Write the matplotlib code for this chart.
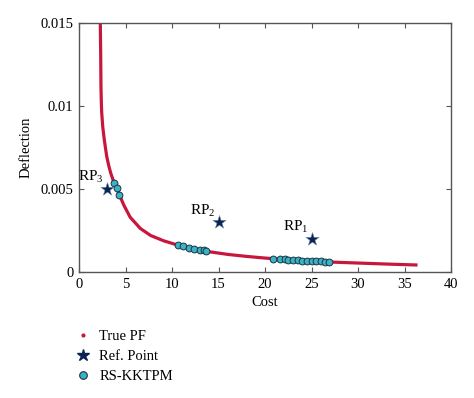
import matplotlib
matplotlib.use("Agg")
import matplotlib.pyplot as plt
from matplotlib.lines import Line2D

plt.rcParams['font.family'] = ['Liberation Serif', 'DejaVu Serif']

# True Pareto front
pf_cost = [2.29, 2.31, 2.33, 2.36, 2.40, 2.44, 2.55, 2.72, 2.98, 3.20, 3.41,
           3.76, 4.05, 4.37, 4.80, 5.50, 6.60, 7.70, 9.10, 10.5, 12.0, 14.0,
           16.0, 18.0, 20.0, 22.0, 24.0, 27.0, 30.0, 33.0, 36.4]
pf_defl = [0.0150, 0.0140, 0.0132, 0.0112, 0.0102, 0.0096, 0.00876, 0.00796,
           0.00696, 0.00640, 0.00596, 0.00538, 0.00505, 0.00462, 0.00405,
           0.00330, 0.00262, 0.00220, 0.00188, 0.00164, 0.00143, 0.00122,
           0.00106, 0.00094, 0.00084, 0.00076, 0.00069, 0.00060, 0.00054,
           0.00048, 0.00042]

# reference points
rp_cost = [25, 15, 3]
rp_defl = [0.002, 0.003, 0.005]
rp_names = ['1', '2', '3']

# RS-KKTPM solutions
kk_cost = [3.76, 4.05, 4.33,
           10.65, 11.2, 11.8, 12.4, 13.0, 13.4, 13.7,
           20.9, 21.6, 22.1, 22.5, 23.0, 23.5, 24.0, 24.5, 25.0, 25.5, 26.0,
           26.5, 26.9]
kk_defl = [0.00538, 0.00508, 0.00466,
           0.00162, 0.00154, 0.00147, 0.00140, 0.00134, 0.00130, 0.00127,
           0.00081, 0.00078, 0.00076, 0.00075, 0.00073, 0.00072, 0.00069,
           0.00068, 0.00067, 0.00066, 0.00064, 0.00063, 0.00062]

RED = '#c8173c'
NAVY = '#0b2350'
CYAN = '#3ab3c4'

fig = plt.figure(figsize=(4.74, 3.98), dpi=100)
ax = fig.add_axes([0.1667, 0.3166, 0.7848, 0.6254])

ax.plot(pf_cost, pf_defl, color=RED, lw=2.3, solid_capstyle='butt',
        solid_joinstyle='round', zorder=2)
ax.scatter(kk_cost, kk_defl, s=24, color=CYAN, edgecolor='#1d3444', lw=0.7, zorder=3)
ax.scatter(rp_cost, rp_defl, s=100, marker='*', color=NAVY, edgecolor='#6a8ab0',
           lw=0.4, zorder=4)
for c, d, n in zip(rp_cost, rp_defl, rp_names):
    ax.text(c - 0.3, d + 0.0007, r'$\mathregular{RP_{%s}}$' % n, ha='right',
            va='center', fontsize=11)

ax.set_xlim(0, 40)
ax.set_ylim(0, 0.015)
ax.set_xticks([0, 5, 10, 15, 20, 25, 30, 35, 40])
ax.set_yticks([0, 0.005, 0.01, 0.015])
ax.set_yticklabels(['0', '0.005', '0.01', '0.015'])
ax.tick_params(direction='in', length=3.5, top=True, right=True, labelsize=10.5,
               color='#555555', pad=4)
for s in ax.spines.values():
    s.set_color('#555555')
    s.set_linewidth(1.0)
ax.set_xlabel('Cost', fontsize=10.5, labelpad=4)
ax.set_ylabel('Deflection', fontsize=10.5, labelpad=6)

handles = [
    Line2D([], [], ls='none', marker='.', ms=4, color=RED),
    Line2D([], [], ls='none', marker='*', ms=9, color=NAVY),
    Line2D([], [], ls='none', marker='o', ms=5.5, markerfacecolor=CYAN,
           markeredgecolor='#1d3444', markeredgewidth=0.8),
]
fig.legend(handles, ['True PF', 'Ref. Point', 'RS-KKTPM'], loc='upper left',
           bbox_to_anchor=(0.148, 0.185), frameon=False, fontsize=10.5,
           handlelength=1.0, handletextpad=0.6, labelspacing=0.45,
           borderaxespad=0)

fig.savefig('out.png', dpi=100)
